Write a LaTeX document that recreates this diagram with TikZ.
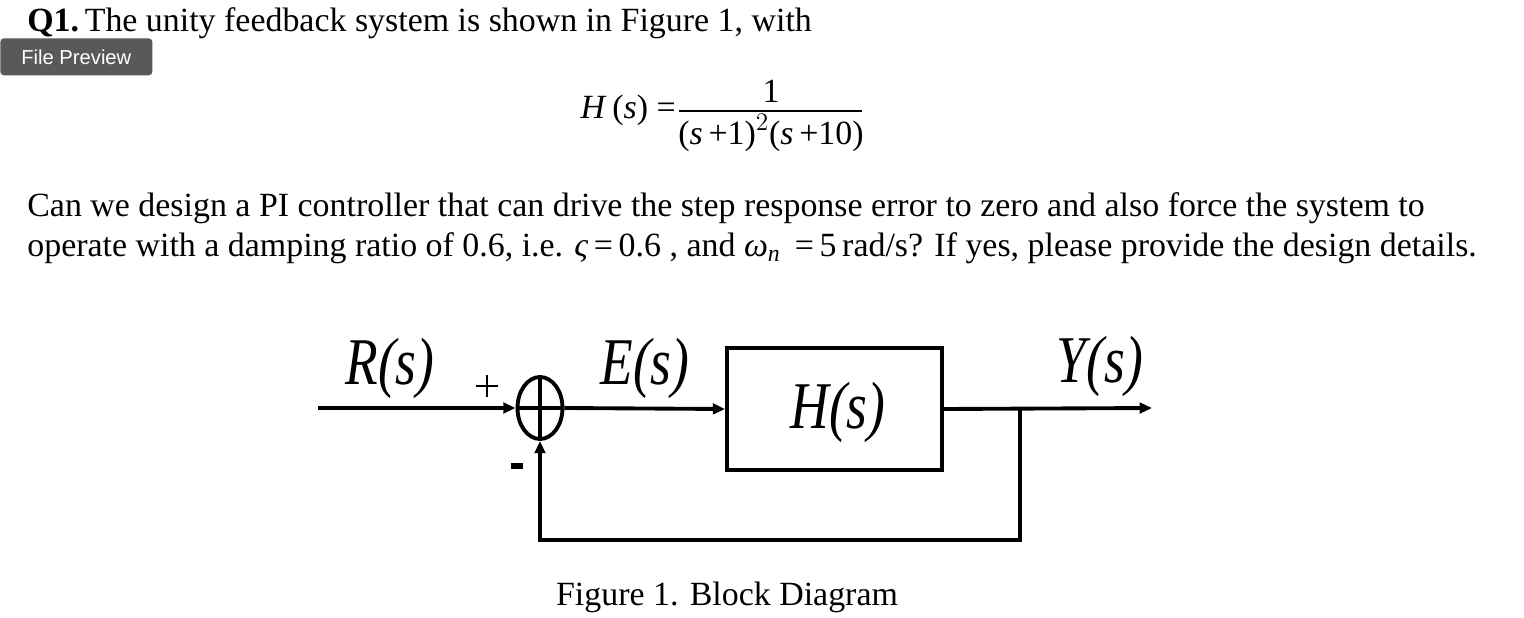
\documentclass[tikz,border=0pt]{standalone}
\usepackage{fontspec}
\setmainfont{Liberation Serif}
\newfontfamily\badgefont{Liberation Sans}
\usetikzlibrary{arrows.meta,shapes.geometric}
\begin{document}
\begin{tikzpicture}[x=0.02cm,y=-0.02cm,
  txt/.style={inner sep=0pt,font=\fontsize{19.3}{22}\selectfont},
  big/.style={inner sep=0pt,font=\fontsize{38}{40}\selectfont\itshape},
  wire/.style={line width=2.2pt},
  arr/.style={wire,-{Triangle[length=7pt,width=6pt]}}]
\useasboundingbox (0,0) rectangle (1524,618);
\fill[white] (0,0) rectangle (1524,618);
% header
\node[txt,anchor=base west] (q1) at (27,32) {\textbf{Q1.}\,The unity feedback system is shown in Figure 1, with};
\node[fill=gray!70!black,rounded corners=2pt,minimum width=3.04cm,minimum height=0.74cm,anchor=north west,text=white,font=\badgefont\fontsize{11.5}{13}\selectfont,inner sep=0pt] (badge) at (0,38) {File Preview};
% equation
\node[txt,anchor=east] (hs) at (676,110) {\textit{H}\,(\textit{s}) =};
\draw[line width=0.6pt] (679,111) coordinate (fl) -- (862,111) coordinate (fr);
\node[txt] (num) at (771,91) {1};
\node[txt] (den) at (771,133) {(\textit{s}\,+1)$^{2}$(\textit{s}\,+10)};
% paragraph
\node[txt,anchor=base west] (l2) at (27,216) {Can we design a PI controller that can drive the step response error to zero and also force the system to};
\node[txt,anchor=base west] (l3) at (27,256) {operate with a damping ratio of 0.6, i.e. \textit{ς}\,=\,0.6 , and \textit{ω}\textsubscript{\textit{n}} \,=\,5\,rad/s? If yes, please provide the design details.};
% block diagram
\coordinate (in) at (318,408);
\node[draw,line width=2.2pt,ellipse,minimum width=0.9cm,minimum height=1.24cm,inner sep=0pt] (sum) at (540,408) {};
\node[draw,line width=2.2pt,minimum width=4.3cm,minimum height=2.44cm,inner sep=0pt] (blk) at (834.5,409) {};
\node[big] (hlab) at (838,412) {\scalebox{0.8}[1]{H(s)}};
\coordinate (out) at (1152,408);
\coordinate (br) at (1020,408);
\coordinate (bd) at (1020,540);
\coordinate (bl) at (540,540);
\draw[line width=2pt] (sum.north) -- (sum.south) (sum.west) -- (sum.east);
\draw[arr] (in) -- (sum.west);
\draw[arr] (sum.east) -- (blk.west);
\draw[arr] (blk.east) -- (out);
\draw[wire,-{Triangle[length=7pt,width=6pt]}] (br) -- (bd) -- (bl) -- (sum.south);
\node[big] (rl) at (390,368) {\scalebox{0.8}[1]{R(s)}};
\node[big] (el) at (645,368) {\scalebox{0.8}[1]{E(s)}};
\node[big] (yl) at (1100,366) {\scalebox{0.8}[1]{Y(s)}};
\draw[line width=0.8pt] (476,386) coordinate (p1) -- (498,386) coordinate (p2) (487,375) coordinate (p3) -- (487,397) coordinate (p4);
\draw[line width=3pt] (511,466) coordinate (m1) -- (523,466) coordinate (m2);
\node[txt,anchor=base] (cap) at (727,605) {Figure 1. Block Diagram};
\end{tikzpicture}
\end{document}
